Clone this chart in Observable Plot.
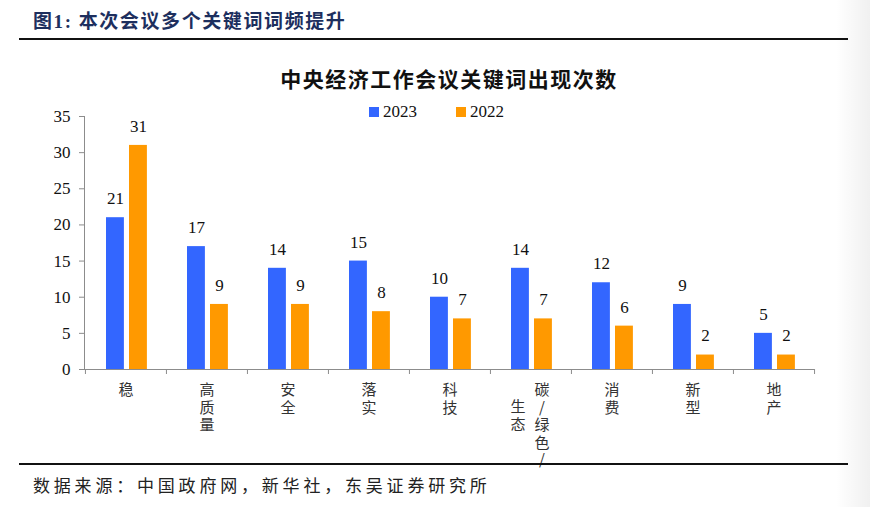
<!DOCTYPE html>
<html>
<head>
<meta charset="utf-8">
<script src="https://cdn.jsdelivr.net/npm/d3@7"></script>
<script src="https://cdn.jsdelivr.net/npm/@observablehq/plot@0.6"></script>
<style>
  html, body { margin: 0; padding: 0; background: #fff; }
  #page { position: relative; width: 870px; height: 507px; overflow: hidden; background: #fff; }
  .abs { position: absolute; white-space: nowrap; }
  #fig { left: 33px; top: 6px; font-family: "Noto Sans CJK SC", sans-serif; font-weight: 700; font-size: 19px; letter-spacing: 1.6px; color: #1d2f5e; }
  #fig .num { font-family: "Liberation Serif", serif; font-weight: 700; margin-right: 6px; }
  .hline { position: absolute; left: 19px; width: 829px; height: 2px; background: #111; }
  #ctitle { left: 0; width: 898px; text-align: center; top: 63px; font-family: "Noto Sans CJK SC", sans-serif; font-weight: 700; font-size: 21px; letter-spacing: 1.5px; color: #111; }
  #legend { left: 369px; top: 102px; font-family: "Liberation Serif", serif; font-size: 17px; color: #111; display: flex; align-items: center; }
  #legend .sw { display: inline-block; width: 10px; height: 10px; margin-right: 4px; }
  #legend .item { display: flex; align-items: center; margin-right: 39px; }
  #source { left: 33px; top: 472px; font-family: "Noto Sans CJK SC", sans-serif; font-size: 17px; letter-spacing: 3.8px; color: #222; }
  #shade { position: absolute; right: 0; top: 0; width: 34px; height: 507px; background: linear-gradient(to right, rgba(0,0,0,0), rgba(0,0,0,0.06)); }
  #chart { position: absolute; left: 0; top: 0; }
</style>
</head>
<body>
<div id="page">
  <div id="chart"></div>
  <div class="abs" id="fig">图<span class="num">1:</span>本次会议多个关键词词频提升</div>
  <div class="hline" style="top:38px"></div>
  <div class="abs" id="ctitle">中央经济工作会议关键词出现次数</div>
  <div class="abs" id="legend"></div>
  <div class="hline" style="top:463px"></div>
  <div class="abs" id="source">数据来源：中国政府网，新华社，东吴证券研究所</div>
  <div id="shade"></div>
</div>
<script>
// ---- data ----
const categories = ["稳", "高质量", "安全", "落实", "科技", "碳/绿色/生态", "消费", "新型", "地产"];
const values2023 = [21, 17, 14, 15, 10, 14, 12, 9, 5];
const values2022 = [31, 9, 9, 8, 7, 7, 6, 2, 2];
const seriesNames = ["2023", "2022"];
const seriesColors = ["#3366ff", "#ff9900"];
const yTicks = [0, 5, 10, 15, 20, 25, 30, 35];
// tick label columns (vertical text, columns read right-to-left)
const labelColumns = [["稳"], ["高质量"], ["安全"], ["落实"], ["科技"], ["碳/绿色/", "生态"], ["消费"], ["新型"], ["地产"]];

// ---- build tables ----
const rows2023 = categories.map((c, i) => ({category: c, year: "2023", value: values2023[i]}));
const rows2022 = categories.map((c, i) => ({category: c, year: "2022", value: values2022[i]}));
const vert = s => Array.from(s).join("\n");
const singleLabels = categories.map((c, i) => ({category: c, cols: labelColumns[i]})).filter(d => d.cols.length === 1);
const doubleLabels = categories.map((c, i) => ({category: c, cols: labelColumns[i]})).filter(d => d.cols.length === 2);

const W = 870, H = 507, mL = 84, mR = 56, mT = 116, mB = 138;
const step = (W - mL - mR) / categories.length;

const axisGray = "#8c8c8c";
const serif = "Liberation Serif, Times New Roman, serif";
const cjk = "Noto Sans CJK SC, sans-serif";
const lab = {frameAnchor: "bottom", lineAnchor: "top", lineHeight: 1.17, fontSize: 15, fill: "#333", fontFamily: cjk};

const chart = Plot.plot({
  width: W, height: H,
  marginTop: mT, marginBottom: mB, marginLeft: mL, marginRight: mR,
  style: {fontFamily: serif, background: "transparent", overflow: "visible"},
  x: {domain: categories, padding: 0, axis: null, label: null},
  y: {domain: [0, 35], axis: null, label: null},
  marks: [
    // bars
    Plot.barY(rows2023, {x: "category", y: "value", fill: seriesColors[0], insetLeft: 21, insetRight: step - 39}),
    Plot.barY(rows2022, {x: "category", y: "value", fill: seriesColors[1], insetLeft: 44, insetRight: step - 62}),
    // value labels
    Plot.text(rows2023, {x: "category", y: "value", text: d => String(d.value), dx: 30 - step / 2, dy: -19, fontSize: 17, fill: "#111", fontFamily: serif}),
    Plot.text(rows2022, {x: "category", y: "value", text: d => String(d.value), dx: 53 - step / 2, dy: -19, fontSize: 17, fill: "#111", fontFamily: serif}),
    // y axis
    Plot.frame({anchor: "left", stroke: axisGray}),
    Plot.axisY({ticks: yTicks, tickSize: 5, tickPadding: 9, stroke: axisGray, fill: "#111", fontSize: 17, fontFamily: serif, label: null}),
    // x axis
    Plot.ruleY([0], {stroke: axisGray}),
    Plot.axisX({tickSize: 5, tickFormat: () => "", stroke: axisGray, dx: -step / 2, label: null}),
    Plot.axisX({ticks: [categories[categories.length - 1]], tickSize: 5, tickFormat: () => "", stroke: axisGray, dx: step / 2, label: null}),
    // category labels (vertical)
    Plot.text(singleLabels, {...lab, x: "category", text: d => vert(d.cols[0]), dy: 13}),
    Plot.text(doubleLabels, {...lab, x: "category", text: d => vert(d.cols[0]), dx: 11, dy: 13}),
    Plot.text(doubleLabels, {...lab, x: "category", text: d => vert(d.cols[1]), dx: -13, dy: 30})
  ]
});
document.getElementById("chart").appendChild(chart);

// legend
const legend = document.getElementById("legend");
seriesNames.forEach((n, i) => {
  const item = document.createElement("span");
  item.className = "item";
  item.innerHTML = `<span class="sw" style="background:${seriesColors[i]}"></span>${n}`;
  legend.appendChild(item);
});
</script>
</body>
</html>
